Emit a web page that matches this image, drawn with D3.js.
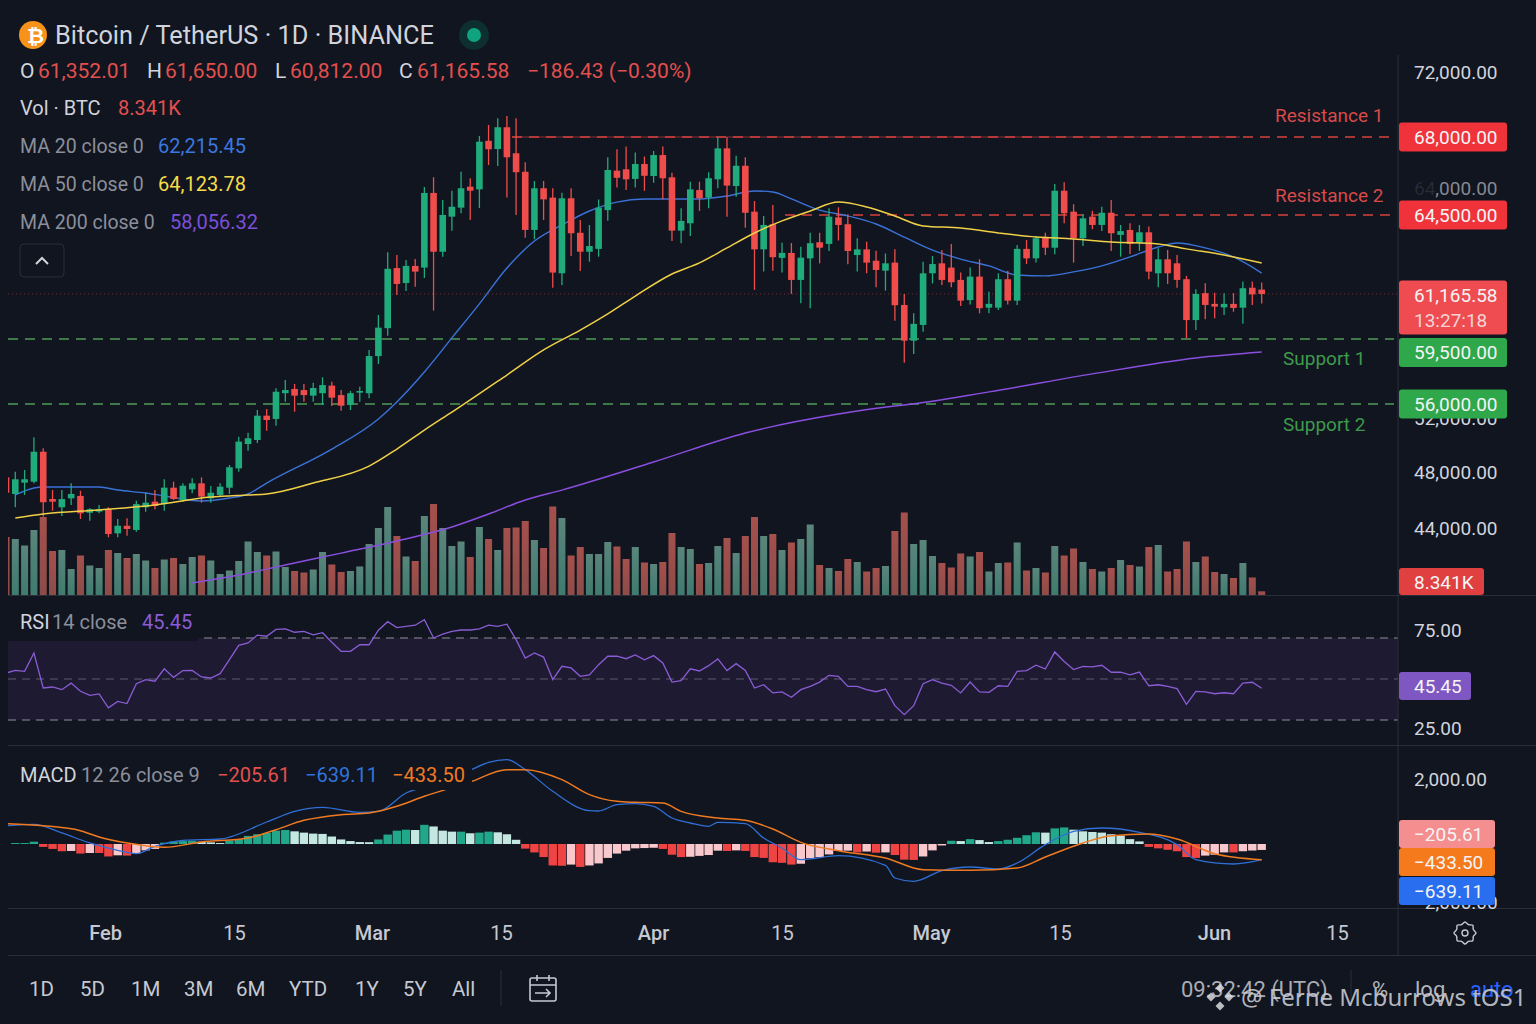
<!DOCTYPE html>
<html>
<head>
<meta charset="utf-8">
<script src="https://cdn.jsdelivr.net/npm/d3@7"></script>
<style>
  html, body { margin: 0; padding: 0; background: #11151f; }
  svg { display: block; }
  text { font-family: Roboto, sans-serif; }
</style>
</head>
<body>
<div id="chart"></div>
<script>
// daily candles, index 0 is the one cut by the left edge
const opens = [47620,46430,47240,47310,49500,46070,45480,46120,46290,45090,45170,45340,43620,44160,43860,45480,45880,45710,46880,46000,46760,47190,46120,46360,46880,48270,50070,50370,52660,51930,56580,56810,56750,56450,56580,56990,56480,55710,56610,56580,58580,59900,62260,61630,62350,62280,65490,62950,64430,64830,65770,65650,67830,67460,68600,67270,66440,63870,65700,65280,62040,65250,63750,62950,63070,64720,66490,66550,66120,66790,66250,67190,66190,63840,64150,65620,65280,66100,67490,65800,66710,64650,63050,64110,62690,62900,61760,62670,63350,63280,64400,64110,62810,63050,62570,62150,62490,60760,59410,60020,62040,62460,62280,61760,60940,61900,60660,60660,61790,60920,63070,62670,63580,63120,65590,64650,63520,64430,64080,64600,63660,63870,63330,63770,62040,62630,62460,61790,60200,61200,60800,60670,60800,60660,61430,61352.01];
const highs = [47620,48020,48150,50570,49760,46710,46710,47190,46660,45410,45640,45480,44640,44690,45950,46520,46710,47480,47310,47190,47550,47620,47000,47190,48520,50620,50910,54290,54570,56850,57290,57080,57080,57150,57440,57200,56750,56700,56930,58910,60390,62930,62810,62600,62640,65760,66190,65170,65590,66440,66150,68060,68740,69150,69290,69150,66870,66030,66030,65700,65500,65700,64290,64080,65200,67090,67450,67570,67310,67120,67370,67570,66400,64800,65990,65990,66420,67990,67990,67160,67090,65130,64460,64950,63330,63320,63160,63750,63750,64800,64850,64530,63520,63370,62990,62880,63050,61170,60450,62530,62770,63020,63280,62070,62280,62630,61260,62040,62150,63230,63450,63610,63750,65890,65970,64980,64530,64690,64870,65170,64080,64150,64080,64010,63100,63020,62810,61930,61370,61620,61220,61200,61200,61690,61690,61650];
const lows = [46520,45480,46360,47190,44810,45240,44860,45640,44640,44520,45050,43340,43340,43450,43740,45160,45340,45240,46000,45880,46480,45810,45810,46290,46430,48020,49580,50150,51060,51430,56120,53800,56120,56120,55710,55430,54090,54290,56120,56310,58150,59620,61130,61290,61470,61840,60550,62740,63840,64580,64290,64810,66740,66700,65290,64500,63540,63480,64290,61430,61550,62770,62140,62530,62740,64260,65730,65620,65730,65590,65950,65210,63400,63310,63610,64680,64800,65700,64430,65320,63960,61340,62110,62150,62070,61170,60820,60640,62460,62980,63420,62420,62110,62040,61450,61310,60180,58220,58690,59770,61610,61550,61450,60720,60780,60450,60450,60570,60780,60760,62430,62490,62810,62840,64150,62490,63190,63900,63820,62980,62740,62850,62980,61790,61450,61590,61430,59530,59830,60230,60270,60390,60510,60060,60760,60812];
const closes = [46520,47480,47480,49500,45840,45880,46070,46430,45050,45340,45340,43570,44160,43930,45710,45810,45570,46880,46070,47020,47190,46240,46520,46950,48350,50250,50500,52660,51850,56660,56750,56450,56480,56860,57020,56340,55510,56580,56700,58580,59920,62230,61590,62350,62110,65490,62950,64500,64870,65700,65590,67790,67450,68600,67090,66420,63870,65700,65200,62070,65250,63730,62950,63190,64830,66520,66170,66100,66790,66260,67190,66150,63840,64250,65650,65250,66150,67490,65820,66710,64600,63050,64080,62720,62900,61760,62700,63310,63120,64430,64080,62980,63050,62490,62180,62460,60750,59410,60060,62040,62430,61760,61660,60920,61900,60640,60800,61790,60920,63070,62670,63520,63120,65590,64580,63520,64360,64080,64600,63730,63820,63280,63770,62110,62630,62040,61760,60200,61170,60760,60700,60800,60650,61410,61150,61165.58];

// volume in thousands of BTC
const volumes = [117,113,100,131,157,89,91,53,80,60,55,91,85,75,83,70,55,72,75,63,77,80,70,43,50,69,108,87,80,88,57,49,46,52,87,62,47,49,58,103,135,177,119,78,69,159,183,135,99,108,77,137,113,91,135,136,149,111,95,178,155,80,97,83,83,107,98,73,97,66,63,67,125,97,93,63,65,99,115,85,119,157,119,123,91,106,113,142,61,55,49,73,67,48,55,59,129,166,103,111,79,65,56,84,78,87,48,65,66,106,50,55,46,99,80,94,67,53,48,55,71,61,58,97,101,48,53,108,67,78,47,43,35,65,36,8.341];

const ma20Days = [1,3,4,10,12,15,17,21,24,26,28,35,40,42,45,48,51,54,57,60,63,66,69,72,75,78,81,83,85,88,91,94,97,100,103,106,109,112,115,118,121,124,126,129,132,135];
const ma20Values = [46360,46860,46930,46930,46710,46500,46290,45930,46140,46430,47210,49700,51930,56110,57720,59540,60800,62260,63400,64080,64680,65080,65220,65220,65220,65350,65580,65530,65220,64720,64460,64120,63570,63020,62640,62350,61970,61930,62100,62350,62730,63150,63320,63110,62730,62050];
const ma50Days = [1,4,10,16,22,26,28,33,39,42,45,48,50,54,58,62,65,68,72,75,78,81,84,87,90,93,96,99,103,107,111,115,119,124,127,131,135];
const ma50Values = [44710,45000,45290,45640,46210,46360,46430,47210,48440,49700,51110,53710,56220,57560,58910,59830,60430,61090,62010,62480,63110,63740,64250,64680,65080,64860,64460,64040,63950,63740,63570,63490,63360,63280,63070,62810,62470];
const ma200Days = [20,25,30,36,42,48,52,56,60,70,80,90,96,97,106,117,128,135];
const ma200Values = [40070,40640,41360,42210,43070,44070,45000,46000,46710,48740,50890,53140,55430,55710,56650,57620,58480,58800];

// one RSI value per day
const rsiValues = [52.9,54.2,53.7,62.7,45.6,46.1,44.8,48,44,42,42.7,35.9,39.1,38,47.7,49.7,48.9,55,50.8,54.1,54.2,51,50.5,52.6,59.4,66.4,67.6,71.8,71.1,75.4,75.7,73.6,74.1,72,73.3,67.9,63.5,63.5,66.7,66.7,74.9,80.2,76.5,77.3,78,81.4,70,72.4,74.1,75,75,75.7,78,77.3,78.6,69.2,60.2,62.7,60.7,49.7,56.2,55.4,51.3,52,57,61.1,61.1,59.9,61.7,59.4,61.4,57.8,48.5,49.2,55,53.9,56.5,59.8,54.1,57.5,54.2,45.6,47.2,43.2,43.7,41.1,44.8,46.4,48.5,51.8,51.3,46.4,46.4,44.8,43.8,45.1,37,32.6,37,47.7,49.7,48,46.9,43.2,48.5,43.7,43.5,46.7,46.4,53.7,54.1,56.7,54.9,63.2,58.5,54.6,56.2,55.9,56.7,53.3,53.3,52,53.4,46.7,47.2,46.4,45.3,37.6,44,43.7,42.8,43.3,42.8,48,48.4,45.45];

// MACD histogram per day, starts at day 1
const macdHist = [30,30,70,-100,-170,-250,-240,-330,-310,-310,-430,-390,-400,-330,-220,-170,40,80,90,100,70,50,30,110,150,250,300,340,410,430,390,350,320,310,230,140,90,60,55,140,290,410,440,430,590,540,410,380,380,330,350,380,360,300,130,-160,-290,-450,-740,-750,-710,-790,-740,-670,-480,-330,-230,-150,-140,-130,-170,-370,-450,-440,-410,-380,-230,-240,-220,-240,-450,-480,-630,-650,-710,-680,-490,-450,-360,-240,-230,-290,-260,-300,-290,-380,-540,-550,-430,-220,-50,100,90,150,120,60,90,130,190,270,360,350,480,510,440,390,370,350,300,260,150,80,-100,-150,-200,-250,-450,-480,-400,-370,-290,-290,-250,-225,-205.61];
const macdDays = [0,3,6,9,12,14,16,19,23,28,31,34,38,40,43,47,50,52,54,56,59,63,64,66,68,70,72,74,76,77,80,82,84,86,90,95,96,98,101,104,107,109,112,115,118,122,126,128,132,135];
const macdValues = [564,605,339,31,-218,-333,-80,113,154,677,1005,1129,975,1005,1570,1878,2267,2514,2596,2288,1621,1026,1016,1211,1241,1159,800,646,544,667,626,185,-138,-540,-402,-735,-1172,-1287,-919,-793,-862,-655,-23,390,492,359,-23,-540,-689,-540];
const signalDays = [0,4,8,10,13,17,21,26,29,32,36,39,42,45,50,54,56,60,63,66,68,71,73,77,80,83,86,90,95,99,104,109,112,116,119,123,126,130,135];
const signalValues = [626,564,410,215,30,-115,62,185,441,728,903,954,1159,1467,1908,2288,2288,1980,1518,1313,1283,1262,1005,800,728,462,51,-230,-483,-885,-908,-827,-448,31,257,308,154,-333,-540];

// axis ticks
const priceTicks = [44000,48000,52000,72000];
const rsiTicks = [25,75];
const macdTicks = [-2000,2000];
const dateTicks = ["2024-02-01","2024-02-15","2024-03-01","2024-03-15","2024-04-01","2024-04-15","2024-05-01","2024-05-15","2024-06-01","2024-06-15"].map(d => new Date(d + "T00:00:00"));

// horizontal levels
const levels = [
  { price: 68000, label: "Resistance 1", side: "r", from: 512, tagY: 137, lab: 122 },
  { price: 64500, label: "Resistance 2", side: "r", from: 785, tagY: 215, lab: 202 },
  { price: 59500, label: "Support 1", side: "s", from: 8, tagY: 352.5, lab: 365 },
  { price: 56000, label: "Support 2", side: "s", from: 8, tagY: 404, lab: 431 }
];
const rangeButtons = ["1D","5D","1M","3M","6M","YTD","1Y","5Y","All"];
const rangeButtonX = [29,80,131,184,236,289,355,403,452];

const width = 1536, height = 1024;
const bg = "#11151f", grid = "#2a2e39", textColor = "#d1d4dc", dim = "#8b8f9b";
const green = "#20ab7c", red = "#ef4d4c";
const priceRight = 1398, leftEdge = 8;

const svg = d3.select("#chart").append("svg")
              .attr("width", width)
              .attr("height", height)
              .attr("viewBox", `0 0 ${width} ${height}`);

svg.append("rect").attr("width", width).attr("height", height).attr("fill", bg);

const defs = svg.append("defs");
defs.append("clipPath").attr("id", "paneClip")
    .append("rect").attr("x", leftEdge).attr("y", 55).attr("width", priceRight - leftEdge).attr("height", 540.5);
defs.append("clipPath").attr("id", "lowerClip")
    .append("rect").attr("x", leftEdge).attr("y", 596).attr("width", priceRight - leftEdge).attr("height", 312);

const volGrad = (id, top, bottom) => {
    const g = defs.append("linearGradient").attr("id", id).attr("x1", 0).attr("x2", 0).attr("y1", 0).attr("y2", 1);
    g.append("stop").attr("offset", "0%").attr("stop-color", top);
    g.append("stop").attr("offset", "100%").attr("stop-color", bottom);
};
volGrad("volUp", "#5a857b", "#3f7b6e");
volGrad("volDown", "#a5504c", "#8c4c48");

// scales
const x = d3.scaleLinear()
            .domain([0, 1, 41, 84, 135])
            .range([6, 15.3, 387.7, 782, 1261.7]);
const xTime = d3.scaleTime()
                .domain(dateTicks)
                .range([105, 234, 372, 501, 653, 782, 931, 1060, 1214, 1337]);
// the price axis of the picture is not even, so it goes knot by knot
const y = d3.scaleLinear()
            .domain([44000, 48000, 52000, 56000, 59500, 61165.58, 64500, 68000, 72000])
            .range([528, 472, 418, 404, 339, 294, 215, 137, 72]);
const yVol = d3.scaleLinear().domain([0, 200]).range([595.5, 495.5]);
const yRsi = d3.scaleLinear().domain([25, 30, 70, 75]).range([728, 720, 638, 630]);
const yMacd = d3.scaleLinear().domain([-2000, 0, 2000]).range([902, 844, 779]);

const days = d3.range(opens.length);
const pane = svg.append("g").attr("clip-path", "url(#paneClip)");
const lower = svg.append("g").attr("clip-path", "url(#lowerClip)");

// volume
pane.selectAll(".vol")
    .data(days)
    .join("rect")
    .attr("class", "vol")
    .attr("x", i => x(i) - 3.5)
    .attr("width", 7)
    .attr("y", i => yVol(volumes[i]))
    .attr("height", i => yVol(0) - yVol(volumes[i]))
    .attr("fill", i => closes[i] >= opens[i] ? "url(#volUp)" : "url(#volDown)");

// level lines
pane.append("line")
    .attr("x1", leftEdge).attr("x2", priceRight)
    .attr("y1", y(closes[135])).attr("y2", y(closes[135]))
    .attr("stroke", "#6d3238").attr("stroke-width", 1).attr("stroke-dasharray", "1 3");

// Resistance 1 reads almost solid and darker over most of its length
pane.append("line")
    .attr("x1", 512).attr("x2", 1240)
    .attr("y1", y(68000)).attr("y2", y(68000))
    .attr("stroke", "#8f2f33").attr("stroke-width", 1.2);

pane.selectAll(".level")
    .data(levels)
    .join("line")
    .attr("class", "level")
    .attr("x1", d => d.from)
    .attr("x2", 1394)
    .attr("y1", d => y(d.price))
    .attr("y2", d => y(d.price))
    .attr("stroke", d => d.side === "r" ? "#d8413f" : "#4f9a57")
    .attr("stroke-width", 1.3)
    .attr("stroke-dasharray", "10 7");

const lineFrom = (dayList, values, scale) => d3.line()
                                              .x((d, i) => x(dayList[i]))
                                              .y(d => scale(d))
                                              .curve(d3.curveMonotoneX)(values);

pane.append("path").attr("d", lineFrom(ma200Days, ma200Values, y))
    .attr("fill", "none").attr("stroke", "#8a4fe0").attr("stroke-width", 1.4);
pane.append("path").attr("d", lineFrom(ma20Days, ma20Values, y))
    .attr("fill", "none").attr("stroke", "#3a72d8").attr("stroke-width", 1.4);

// candles
const candle = pane.selectAll(".candle")
                   .data(days)
                   .join("g")
                   .attr("class", "candle")
                   .attr("fill", i => closes[i] >= opens[i] ? green : red)
                   .attr("stroke", i => closes[i] >= opens[i] ? green : red);

candle.append("line")
      .attr("x1", i => x(i)).attr("x2", i => x(i))
      .attr("y1", i => y(highs[i])).attr("y2", i => y(lows[i]))
      .attr("stroke-width", 1.3);

candle.append("rect")
      .attr("x", i => x(i) - 3.3)
      .attr("width", 6.6)
      .attr("y", i => y(Math.max(opens[i], closes[i])))
      .attr("height", i => Math.max(1.5, Math.abs(y(opens[i]) - y(closes[i]))))
      .attr("stroke", "none");

pane.append("path").attr("d", lineFrom(ma50Days, ma50Values, y))
    .attr("fill", "none").attr("stroke", "#f0d048").attr("stroke-width", 1.5);

// RSI pane
lower.append("rect")
     .attr("x", leftEdge).attr("width", priceRight - leftEdge)
     .attr("y", yRsi(70)).attr("height", yRsi(30) - yRsi(70))
     .attr("fill", "#1e1a31");

lower.selectAll(".rsiLevel")
     .data([70, 50, 30])
     .join("line")
     .attr("class", "rsiLevel")
     .attr("x1", leftEdge).attr("x2", priceRight)
     .attr("y1", d => yRsi(d)).attr("y2", d => yRsi(d))
     .attr("stroke", d => d === 50 ? "#5f5c70" : "#8f8f99")
     .attr("stroke-width", 1.2)
     .attr("stroke-dasharray", "8 6");

lower.append("rect").attr("x", 0).attr("y", 610).attr("width", 198).attr("height", 31).attr("fill", bg);

lower.append("path")
     .attr("d", d3.line().x((d, i) => x(i)).y(d => yRsi(d))(rsiValues))
     .attr("fill", "none").attr("stroke", "#8a5cd6").attr("stroke-width", 1.3);

// MACD pane
lower.selectAll(".hist")
     .data(macdHist)
     .join("rect")
     .attr("class", "hist")
     .attr("x", (d, i) => x(i + 1) - 4.2)
     .attr("width", 8.4)
     .attr("y", d => d >= 0 ? yMacd(d) : yMacd(0))
     .attr("height", d => Math.abs(yMacd(d) - yMacd(0)))
     .attr("fill", (d, i) => {
         const prev = i > 0 ? macdHist[i - 1] : 0;
         if (d >= 0) return d >= prev ? "#22a78a" : "#c4e8e1";
         return d <= prev ? "#ef4444" : "#f9c8cc";
     });

lower.append("path").attr("d", lineFrom(macdDays, macdValues, yMacd))
     .attr("fill", "none").attr("stroke", "#2f6fd6").attr("stroke-width", 1.3);
lower.append("path").attr("d", lineFrom(signalDays, signalValues, yMacd))
     .attr("fill", "none").attr("stroke", "#ef7a22").attr("stroke-width", 1.5);

// the legend sits on a plate that hides the lines behind it
svg.append("rect").attr("x", 0).attr("y", 762).attr("width", 472).attr("height", 28).attr("fill", bg);

// separators
svg.selectAll(".sep")
   .data([595.5, 745.5, 908.5, 955.5])
   .join("line")
   .attr("class", "sep")
   .attr("x1", 8).attr("x2", width)
   .attr("y1", d => d).attr("y2", d => d)
   .attr("stroke", grid);

svg.append("line")
   .attr("x1", priceRight).attr("x2", priceRight)
   .attr("y1", 55).attr("y2", 955)
   .attr("stroke", grid);

// axes
const styleAxis = (g, size, fill) => {
    g.select(".domain").remove();
    g.selectAll(".tick line").remove();
    g.selectAll(".tick text")
     .attr("x", 0)
     .attr("fill", fill)
     .style("font-family", "Roboto, sans-serif")
     .style("font-size", size + "px");
};
const money = d3.format(",.2f");

svg.append("g")
   .attr("transform", "translate(1414,0)")
   .call(d3.axisRight(y).tickValues(priceTicks).tickFormat(money))
   .call(styleAxis, 19, textColor);

svg.append("text")
   .attr("x", 1414).attr("y", 195)
   .attr("font-size", 19)
   .selectAll("tspan")
   .data([["64", 0.12], [",000.00", 0.62]])
   .join("tspan")
   .attr("fill", textColor)
   .attr("fill-opacity", d => d[1])
   .text(d => d[0]);

svg.append("g")
   .attr("transform", "translate(1414,0)")
   .call(d3.axisRight(yRsi).tickValues(rsiTicks).tickFormat(money))
   .call(styleAxis, 19, textColor);

svg.append("g")
   .attr("transform", "translate(1414,0)")
   .call(d3.axisRight(yMacd).tickValues(macdTicks).tickFormat(d => money(d).replace("-", "−")))
   .call(styleAxis, 19, textColor);

const xAxis = svg.append("g")
                 .attr("transform", "translate(0,924)")
                 .call(d3.axisBottom(xTime)
                         .tickValues(dateTicks)
                         .tickFormat(d => d.getDate() === 1 ? d3.timeFormat("%b")(d) : "15"))
                 .call(styleAxis, 20, "#c6c9d2");
xAxis.selectAll(".tick text")
     .attr("y", 0)
     .attr("dy", "0.8em")
     .attr("font-weight", d => d.getDate() === 1 ? 500 : 400);

// labels next to the levels, and the tags on the price axis
svg.selectAll(".levelLabel")
   .data(levels)
   .join("text")
   .attr("class", "levelLabel")
   .attr("x", d => d.side === "r" ? 1275 : 1283)
   .attr("y", d => d.lab)
   .attr("font-size", 19)
   .attr("fill", d => d.side === "r" ? "#d84a48" : "#3f9a4c")
   .text(d => d.label);

const tag = (top, h, w, fill, lines, tx = 1414) => {
    svg.append("rect")
       .attr("x", 1399).attr("y", top)
       .attr("width", w).attr("height", h)
       .attr("rx", 3)
       .attr("fill", fill);
    lines.forEach((t, i) => {
        svg.append("text")
           .attr("x", tx).attr("y", top + 21 + i * 25)
           .attr("font-size", 19)
           .attr("fill", "#f4f4f6")
           .attr("fill-opacity", i ? 0.82 : 1)
           .text(t);
    });
};
levels.forEach(d => tag(d.tagY - 14.5, 29, 108, d.side === "r" ? "#f0333a" : "#2ea84a", [money(d.price)]));
tag(280.5, 54, 108, "#ee4c50", [money(closes[135]), "13:27:18"]);
tag(568, 27, 85, "#e0403f", [(volumes[135]).toFixed(3) + "K"]);
tag(672, 28, 72, "#7e57c2", [rsiValues[135].toFixed(2)]);
tag(820, 28, 96, "#f58e8e", ["−205.61"]);
tag(848, 28, 96, "#f57a1c", ["−433.50"]);
tag(877, 28, 96, "#2a6ef0", ["−639.11"]);

// legend rows
const put = (tx, ty, str, fill, size = 20, weight = 400) =>
    svg.append("text")
       .attr("x", tx).attr("y", ty)
       .attr("font-size", size)
       .attr("font-weight", weight)
       .attr("fill", fill)
       .text(str);

svg.append("circle").attr("cx", 33).attr("cy", 35).attr("r", 14).attr("fill", "#f7931a");
put(27, 43, "₿", "#fff", 21, 700);
put(55, 44, "Bitcoin / TetherUS · 1D · BINANCE", textColor, 25.3);
svg.append("circle").attr("cx", 474).attr("cy", 35).attr("r", 15).attr("fill", "#0d2f2f");
svg.append("circle").attr("cx", 474).attr("cy", 35).attr("r", 7).attr("fill", "#0fa37f");

const redText = "#e2504e";
put(20, 78, "O", textColor, 21); put(38, 78, "61,352.01", redText, 21);
put(147, 78, "H", textColor, 21); put(165, 78, "61,650.00", redText, 21);
put(275, 78, "L", textColor, 21); put(290, 78, "60,812.00", redText, 21);
put(399, 78, "C", textColor, 21); put(417, 78, "61,165.58", redText, 21);
put(527, 78, "−186.43 (−0.30%)", redText, 21);

put(20, 115, "Vol · BTC", textColor); put(118, 115, "8.341K", redText);
put(20, 153, "MA 20 close 0", dim, 19.5); put(158, 153, "62,215.45", "#3a78e0");
put(20, 191, "MA 50 close 0", dim, 19.5); put(158, 191, "64,123.78", "#f5dc4a");
put(20, 229, "MA 200 close 0", dim, 19.5); put(170, 229, "58,056.32", "#7c4fd8");

svg.append("rect")
   .attr("x", 20).attr("y", 244).attr("width", 44).attr("height", 33).attr("rx", 4)
   .attr("fill", "none").attr("stroke", grid);
svg.append("path")
   .attr("d", "M36 264 L42 258 L48 264")
   .attr("fill", "none").attr("stroke", textColor).attr("stroke-width", 2);

put(20, 629, "RSI", textColor); put(52, 629, "14 close", dim); put(142, 629, "45.45", "#8a5cd6");
put(20, 782, "MACD", textColor); put(81, 782, "12 26 close 9", dim);
put(217, 782, "−205.61", redText); put(305, 782, "−639.11", "#2f74dc"); put(392, 782, "−433.50", "#ef7a22");

// settings gear
const gearPoints = d3.range(16).map(i => [i * Math.PI / 8, i % 2 ? 9 : 11]);
const gear = svg.append("g").attr("transform", "translate(1465,933)")
                .attr("fill", "none").attr("stroke", "#c6c9d2").attr("stroke-width", 1.4);
gear.append("path").attr("d", d3.lineRadial().curve(d3.curveCardinalClosed)(gearPoints));
gear.append("circle").attr("r", 3);

// bottom toolbar
svg.selectAll(".range")
   .data(rangeButtons)
   .join("text")
   .attr("class", "range")
   .attr("x", (d, i) => rangeButtonX[i])
   .attr("y", 996)
   .attr("font-size", 20.5)
   .attr("fill", "#c6c9d2")
   .text(d => d);

svg.append("line").attr("x1", 501).attr("x2", 501).attr("y1", 970).attr("y2", 1006).attr("stroke", grid);
svg.append("line").attr("x1", 1351).attr("x2", 1351).attr("y1", 970).attr("y2", 1006).attr("stroke", grid);

const cal = svg.append("g").attr("transform", "translate(529,975)")
               .attr("fill", "none").attr("stroke", "#c6c9d2").attr("stroke-width", 1.6);
cal.append("rect").attr("x", 1).attr("y", 3).attr("width", 26).attr("height", 23).attr("rx", 2);
cal.append("path").attr("d", "M1 10 H27 M8 0 V6 M20 0 V6 M6 18 H21 M17 14 L21 18 L17 22");

put(1181, 997, "09:32:42 (UTC)", "#a9acb5", 22);
put(1372, 997, "%", "#b2b5be", 22);
put(1415, 997, "log", "#b2b5be", 22);
put(1470, 997, "auto", "#2962ff", 22);

// watermark over the toolbar
const mark = svg.append("g").attr("transform", "translate(1220,997)").attr("fill", "#d9dbe0");
[[0, -9], [-9, 0], [9, 0], [0, 9]].forEach(p => {
    mark.append("path")
        .attr("d", `M${p[0]} ${p[1] - 4.5} L${p[0] + 4.5} ${p[1]} L${p[0]} ${p[1] + 4.5} L${p[0] - 4.5} ${p[1]} Z`)
        .attr("fill-opacity", 0.85);
});
svg.append("text")
   .attr("x", 1241).attr("y", 1006)
   .attr("font-size", 24)
   .attr("fill", "#c9ccd3")
   .attr("fill-opacity", 0.9)
   .style("font-family", "'Noto Sans', sans-serif")
   .text("@ Ferne Mcburrows tOS1");
</script>
</body>
</html>
